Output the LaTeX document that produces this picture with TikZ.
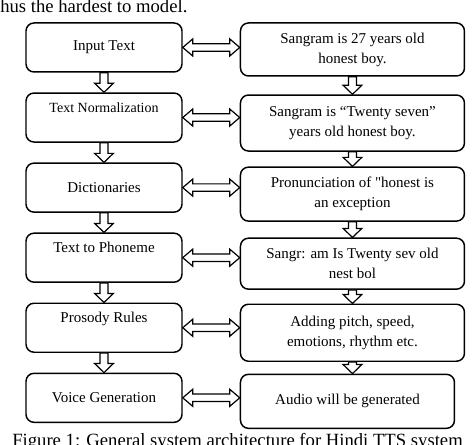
\documentclass[tikz,border=0pt]{standalone}
\usepackage{fontspec}
\setmainfont{Liberation Serif}
\usetikzlibrary{positioning}
\usetikzlibrary{calc}
\tikzset{left node/.style={rectangle,draw,rounded corners=6pt,line width=1.1pt,minimum width=117pt,minimum height=36.75pt,inner sep=0pt,align=center,font=\fontsize{11.25}{15}\selectfont},}
\tikzset{right node/.style={rectangle,draw,rounded corners=6pt,line width=1.1pt,minimum width=168pt,minimum height=40.5pt,inner sep=0pt,align=center,font=\fontsize{11.25}{15}\selectfont},}
\tikzset{flow arrow/.style={draw,line width=0.9pt,fill=white,to path={let \p1=(\tikztostart), \p2=(\tikztotarget) in (\x1-3pt,\y1) -- (\x1+3pt,\y1) -- (\x1+3pt,\y2+6.75pt) -- (\x1+7pt,\y2+6.75pt) -- (\x1,\y2) -- (\x1-7pt,\y2+6.75pt) -- (\x1-3pt,\y2+6.75pt) -- cycle}},}
\tikzset{link arrow/.style={draw,line width=0.9pt,fill=white,to path={let \p1=(\tikztostart), \p2=(\tikztotarget) in (\x1,\y1) -- (\x1+7.5pt,\y1+6.4pt) -- (\x1+7.5pt,\y1+2.8pt) -- (\x2-7.5pt,\y1+2.8pt) -- (\x2-7.5pt,\y1+6.4pt) -- (\x2,\y1) -- (\x2-7.5pt,\y1-6.4pt) -- (\x2-7.5pt,\y1-2.8pt) -- (\x1+7.5pt,\y1-2.8pt) -- (\x1+7.5pt,\y1-6.4pt) -- cycle}},}
\begin{document}
\begin{tikzpicture}
          \path[use as bounding box,clip] (0,0) rectangle (355.5pt,-333pt);
          \node[anchor=base west,inner sep=0pt,font=\fontsize{14}{16}\selectfont] (top) at (0pt,-9.6pt) {hus the hardest to model.};

          \node[left node] (l1) at (78pt,-35.6pt) {Input Text};
          \node[left node] (l2) [below = 14.7pt of l1] {{\fontsize{10.5}{15}\selectfont Text Normalization}\\~};
          \node[left node] (l3) [below = 14.7pt of l2] {Dictionaries};
          \node[left node] (l4) [below = 14.7pt of l3] {Text to Phoneme\\~};
          \node[left node] (l5) [below = 14.7pt of l4] {Prosody Rules\\~};
          \node[left node] (l6) [below = 14.7pt of l5] {Voice Generation};

          \node[right node] (r1) [right = 42.75pt of l1.north east, anchor=north west, minimum height=39.75pt] {Sangram is 27 years old\\honest boy.};
          \node[right node] (r2) [right = 42.75pt of l2.north east, anchor=north west, yshift=-1.5pt, minimum height=42pt] {Sangram is “Twenty seven”\\years old honest boy.};
          \node[right node] (r3) [right = 42.75pt of l3.north east, anchor=north west, yshift=-3pt] {Pronunciation of \textquotedbl honest is\\an exception};
          \node[right node] (r4) [right = 42.75pt of l4.north east, anchor=north west, yshift=-3.75pt, minimum height=38.25pt] {Sangr: am Is Twenty sev old\\nest bol};
          \node[right node] (r5) [right = 42.75pt of l5.north east, anchor=north west, yshift=-0.75pt, minimum height=42.75pt] {Adding pitch, speed,\\emotions, rhythm etc.};
          \node[right node] (r6) [right = 42.75pt of l6.north east, anchor=north west, yshift=-0.75pt, minimum width=160.5pt] {Audio will be generated};

          \node[anchor=base west,inner sep=0pt,font=\fontsize{14}{16}\selectfont] (cap) at (9pt,-335pt) {Figure 1: General system architecture for Hindi TTS system};

          \path
          (l1.south) edge[flow arrow] (l2.north)
          (l2.south) edge[flow arrow] (l3.north)
          (l3.south) edge[flow arrow] (l4.north)
          (l4.south) edge[flow arrow] (l5.north)
          (l5.south) edge[flow arrow] (l6.north)
          (r1.south) edge[flow arrow] (r2.north)
          (r2.south) edge[flow arrow] (r3.north)
          (r3.south) edge[flow arrow] (r4.north)
          (r4.south) edge[flow arrow] (r5.north)
          (r5.south) edge[flow arrow] (r6.north);

          \path
          (l1.east) edge[link arrow] (l1.east -| r1.west)
          (l2.east) edge[link arrow] (l2.east -| r2.west)
          (l3.east) edge[link arrow] (l3.east -| r3.west)
          (l4.east) edge[link arrow] (l4.east -| r4.west)
          (l5.east) edge[link arrow] (l5.east -| r5.west)
          (l6.east) edge[link arrow] (l6.east -| r6.west);
        \end{tikzpicture}
\end{document}
